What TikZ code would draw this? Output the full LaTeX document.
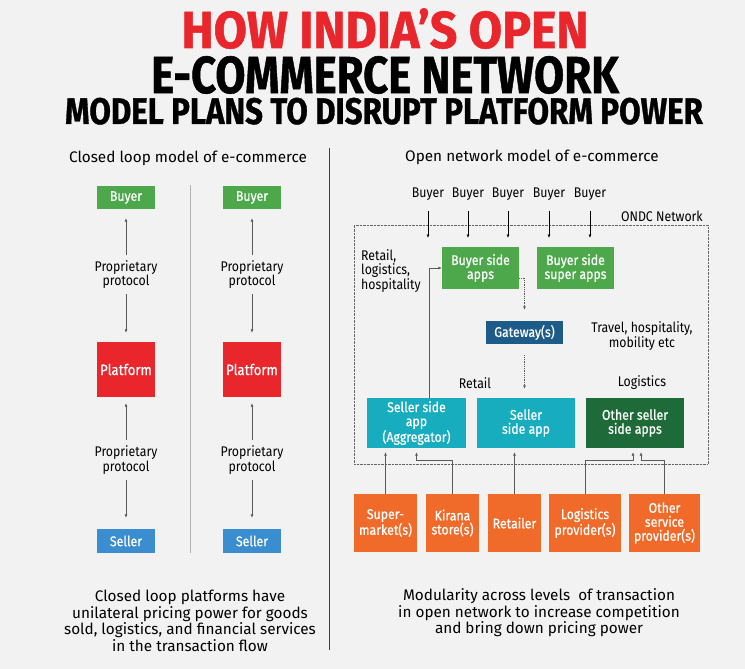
\documentclass[tikz,border=0pt]{standalone}
\usepackage{fontspec}
\setmainfont{Fira Sans}
\newfontfamily\condfont[FakeStretch=0.88]{Fira Sans}
\newfontfamily\boxfont[FakeStretch=0.88,FakeBold=0.6]{Fira Sans}
\newfontfamily\headfont[FakeBold=1]{Fira Sans}
\usetikzlibrary{arrows.meta}

\definecolor{bgrey}{HTML}{F2F2F2}
\definecolor{buyergreen}{HTML}{4DA84B}
\definecolor{platred}{HTML}{E8262C}
\definecolor{sellerblue}{HTML}{3A8ED0}
\definecolor{appteal}{HTML}{17ADBF}
\definecolor{darkgreen}{HTML}{1E6B39}
\definecolor{gateblue}{HTML}{1D5B88}
\definecolor{provorange}{HTML}{F06A2A}

\begin{document}
\begin{tikzpicture}[x=1pt,y=-1pt,
  box/.style={inner sep=0pt,text=white,align=center,font=\boxfont\fontsize{14}{14}\selectfont},
  lbl/.style={inner sep=0pt,align=center,font=\condfont\fontsize{14}{14.5}\selectfont},
  note/.style={inner sep=0pt,align=center,font=\fontsize{15.3}{16.5}\selectfont},
  head/.style={inner sep=0pt,text depth=0pt,font=\headfont\bfseries\fontsize{52}{52}\selectfont},
  link/.style={draw=black!65,line width=0.8pt,-{Latex[length=3.5pt,width=3pt]}},
  dlink/.style={link,densely dotted}]

\useasboundingbox[fill=bgrey] (0,0) rectangle (745,669);

% title
\node[head,text=platred,text height=36pt] (t1) at (385,30) {\scalebox{0.928}[1]{HOW INDIA’S OPEN}};
\node[head,text height=36pt] (t2) at (385,75) {\scalebox{0.84}[1]{E-COMMERCE NETWORK}};
\node[head,text height=26pt,font=\headfont\bfseries\fontsize{37}{37}\selectfont] (t3) at (384,111) {\scalebox{0.845}[1]{MODEL PLANS TO DISRUPT PLATFORM POWER}};

% dividers
\draw[black!75,line width=1pt] (329,148) -- (329,650);
\draw[black!30,line width=1pt] (190,185) -- (190,553);

% closed loop model
\node[inner sep=0pt,font=\fontsize{15.3}{15}\selectfont] (closed) at (188,158) {Closed loop model of e-commerce};

\node[box,fill=buyergreen,minimum width=58pt,minimum height=23pt] (buyerA) at (126,197.5) {Buyer};
\node[lbl,minimum height=39pt] (protoA1) at (126,274.5) {Proprietary\\protocol};
\node[box,fill=platred,minimum width=58pt,minimum height=55pt,font=\boxfont\fontsize{15}{15}\selectfont] (platA) at (126,369.5) {Platform};
\node[lbl,minimum height=40pt] (protoA2) at (126,460) {Proprietary\\protocol};
\node[box,fill=sellerblue,minimum width=58pt,minimum height=24pt] (sellerA) at (126,541) {Seller};

\node[box,fill=buyergreen,minimum width=58pt,minimum height=23pt] (buyerB) at (252,197.5) {Buyer};
\node[lbl,minimum height=39pt] (protoB1) at (252,274.5) {Proprietary\\protocol};
\node[box,fill=platred,minimum width=58pt,minimum height=55pt,font=\boxfont\fontsize{15}{15}\selectfont] (platB) at (252,369.5) {Platform};
\node[lbl,minimum height=40pt] (protoB2) at (252,460) {Proprietary\\protocol};
\node[box,fill=sellerblue,minimum width=58pt,minimum height=24pt] (sellerB) at (252,541) {Seller};

\foreach \c in {A,B}{
  \draw[link,shorten >=9pt] (proto\c1) -- (buyer\c);
  \draw[link,shorten >=9pt] (proto\c1) -- (plat\c);
  \draw[link,shorten >=6pt] (proto\c2) -- (plat\c);
  \draw[link,shorten >=11pt] (proto\c2) -- (seller\c);
}

\node[note] (closednote) at (190,621) {Closed loop platforms have\\unilateral pricing power for goods\\sold, logistics, and financial services\\in the transaction flow};

% open network model
\node[inner sep=0pt,font=\fontsize{15.3}{15}\selectfont] (open) at (532,157) {Open network model of e-commerce};

\node[draw=black!60,densely dotted,minimum width=354pt,minimum height=239pt] (ondc) at (531,344.5) {};
\node[lbl,anchor=base east] (ondclbl) at (703,221) {ONDC Network};

\foreach \x [count=\i] in {428,468,508,549,590}{
  \node[lbl] (b\i) at (\x,194) {Buyer};
  \coordinate (bt\i) at (\x,238);
  \draw[link,draw=black,shorten <=10pt] (b\i) -- (bt\i);
}

\node[lbl,align=left,anchor=north west] (rlh) at (361,249) {Retail,\\logistics,\\hospitality};

\node[box,fill=buyergreen,minimum width=77pt,minimum height=42pt] (bsa) at (480.5,268) {Buyer side\\apps};
\node[box,fill=buyergreen,minimum width=77pt,minimum height=42pt] (bssa) at (575.5,268) {Buyer side\\super apps};
\node[box,fill=gateblue,minimum width=77pt,minimum height=23pt] (gw) at (524.5,332.5) {Gateway(s)};
\node[lbl] (travel) at (642,336) {Travel, hospitality,\\mobility etc};

\node[lbl] (retail) at (475,383) {Retail};
\node[lbl] (logi) at (642,383) {Logistics};

\node[box,fill=appteal,minimum width=99pt,minimum height=50pt] (ssa) at (416.5,423) {Seller side\\app\\(Aggregator)};
\node[box,fill=appteal,minimum width=98pt,minimum height=50pt] (ss) at (526,423) {Seller\\side app};
\node[box,fill=darkgreen,minimum width=98pt,minimum height=50pt] (os) at (635,423) {Other seller\\side apps};

\node[box,fill=provorange,minimum width=63pt,minimum height=58pt] (sm) at (385.5,523) {Super-\\market(s)};
\node[box,fill=provorange,minimum width=53pt,minimum height=58pt] (ks) at (452.5,523) {Kirana\\store(s)};
\node[box,fill=provorange,minimum width=53pt,minimum height=58pt] (rt) at (514.5,523) {Retailer};
\node[box,fill=provorange,minimum width=72pt,minimum height=58pt] (lp) at (585,523) {Logistics\\provider(s)};
\node[box,fill=provorange,minimum width=71pt,minimum height=58pt] (osp) at (664.5,523) {Other\\service\\provider(s)};

% connectors
\draw[dlink] ([yshift=-10pt]bsa.east) -| ([shift={(0pt,11pt)}]gw.north);
\draw[dlink,shorten <=11pt,shorten >=9pt] (gw) -- (gw |- ss.north);
\draw[link] ([xshift=12.5pt]ssa.north) |- (bsa.west);
\draw[link,shorten >=4pt] (sm.north) -- (sm.north |- ssa.south);
\draw[link,shorten >=4pt] (ks.north) -- ++(0,-33) -| (ssa.south);
\draw[link,shorten >=4pt] (rt.north) -- (rt.north |- ss.south);
\draw[link,shorten >=4pt] (lp.north) -- ++(0,-33) -| ([xshift=-2pt]os.south);
\draw[link,shorten >=4pt] (osp.north) -- ++(0,-33) -| ([xshift=6pt]os.south);

\node[note] (opennote) at (539,613) {Modularity across levels\ \ of transaction\\in open network to increase competition\\and bring down pricing power};

\end{tikzpicture}
\end{document}
